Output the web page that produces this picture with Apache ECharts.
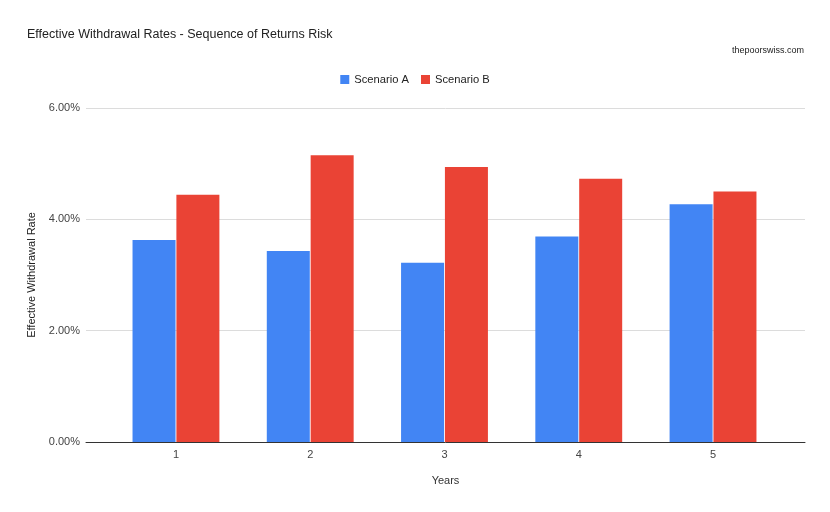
<!DOCTYPE html>
<html>
<head>
<meta charset="utf-8">
<script src="https://cdn.jsdelivr.net/npm/echarts@6/dist/echarts.min.js"></script>
<style>
  html, body { margin: 0; padding: 0; background: #fff; }
  #chart { width: 830px; height: 512px; }
</style>
</head>
<body>
<div id="chart"></div>
<script>
const years = [1, 2, 3, 4, 5];
const scenarioA = [3.63, 3.43, 3.22, 3.69, 4.27];
const scenarioB = [4.44, 5.15, 4.94, 4.73, 4.50];
const yTicks = [0, 2, 4, 6];

const chart = echarts.init(document.getElementById('chart'));

const font = '"Liberation Sans", Arial, sans-serif';

chart.setOption({
    animation: false,
    textStyle: { fontFamily: font },
    title: [
        {
            text: 'Effective Withdrawal Rates - Sequence of Returns Risk',
            left: 22,
            top: 23,
            textStyle: { fontSize: 12.5, fontWeight: 'normal', color: '#222', fontFamily: font },
        },
        {
            text: 'thepoorswiss.com',
            right: 21,
            top: 41,
            textStyle: { fontSize: 9, fontWeight: 'normal', color: '#222', fontFamily: font },
        },
    ],
    legend: {
        top: 69,
        left: 'center',
        icon: 'rect',
        itemWidth: 9,
        itemHeight: 9,
        itemGap: 12,
        textStyle: { fontSize: 11.2, color: '#222', fontFamily: font },
        data: ['Scenario A', 'Scenario B'],
    },
    grid: { left: 86, right: 25, top: 108, bottom: 70, containLabel: false },
    xAxis: {
        type: 'value',
        min: 0.33,
        max: 5.685,
        name: 'Years',
        nameLocation: 'middle',
        nameGap: 33,
        nameTextStyle: { fontSize: 11, color: '#333' },
        axisLine: { show: true, lineStyle: { color: '#333', width: 1 } },
        axisTick: { show: false },
        splitLine: { show: false },
        axisLabel: {
            customValues: years,
            formatter: (v) => String(v),
            fontSize: 11,
            color: '#444',
            margin: 7,
        },
    },
    yAxis: {
        type: 'value',
        min: yTicks[0],
        max: yTicks[yTicks.length - 1],
        interval: 2,
        name: 'Effective Withdrawal Rate',
        nameLocation: 'middle',
        nameGap: 48,
        nameTextStyle: { fontSize: 11, color: '#222' },
        axisLine: { show: false },
        axisTick: { show: false },
        splitLine: { lineStyle: { color: '#dcdcdc', width: 1 } },
        axisLabel: {
            formatter: (v) => v.toFixed(2) + '%',
            fontSize: 11,
            color: '#444',
            margin: 6,
        },
    },
    series: [
        {
            name: 'Scenario A',
            type: 'bar',
            barWidth: 43,
            barGap: '2%',
            itemStyle: { color: '#4285F4' },
            data: years.map((y, i) => [y, scenarioA[i]]),
        },
        {
            name: 'Scenario B',
            type: 'bar',
            barWidth: 43,
            barGap: '2%',
            itemStyle: { color: '#EA4335' },
            data: years.map((y, i) => [y, scenarioB[i]]),
        },
    ],
});
</script>
</body>
</html>
